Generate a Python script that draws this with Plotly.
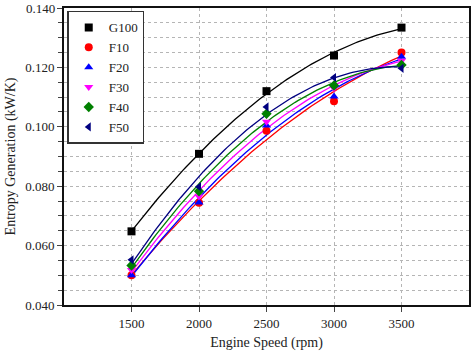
import numpy as np
import plotly.graph_objects as go

speed = [1500, 2000, 2500, 3000, 3500]
series_names = ["G100", "F10", "F20", "F30", "F40", "F50"]
G100 = [0.0648, 0.0909, 0.1120, 0.1240, 0.1334]
F10 = [0.0500, 0.0744, 0.0987, 0.1086, 0.1250]
F20 = [0.0500, 0.0745, 0.1004, 0.1102, 0.1236]
F30 = [0.0518, 0.0765, 0.1017, 0.1130, 0.1222]
F40 = [0.0533, 0.0783, 0.1044, 0.1139, 0.1208]
F50 = [0.0552, 0.0798, 0.1067, 0.1166, 0.1197]
y_ticks = [0.040, 0.060, 0.080, 0.100, 0.120, 0.140]
y_labels = ["0.040", "0.060", "0.080", "0.100", "0.120", ""]

data = [G100, F10, F20, F30, F40, F50]
colors = ["#000000", "#ff0000", "#0000ff", "#ff00ff", "#008000", "#000080"]
symbols = ["square", "circle", "triangle-up", "triangle-down", "diamond", "triangle-left"]

fig = go.Figure()
xs = np.linspace(1500, 3500, 100)
for name, vals, c, s in zip(series_names, data, colors, symbols):
    coef = np.polyfit(speed, vals, 2)
    fig.add_trace(go.Scatter(x=xs, y=np.polyval(coef, xs), mode="lines",
                             line=dict(color=c, width=1.3), showlegend=False, hoverinfo="skip"))
for name, vals, c, s in zip(series_names, data, colors, symbols):
    fig.add_trace(go.Scatter(x=speed, y=vals, mode="markers", name=name,
                             marker=dict(symbol=s, color=c, size=8, line=dict(width=0))))

fig.add_annotation(xref="paper", yref="y", x=0, y=y_ticks[-1], xanchor="right",
                   xshift=-7, yanchor="middle", showarrow=False, text="0.140",
                   font=dict(family="Liberation Serif", size=13, color="#222"))

grid = dict(gridcolor="#b5b5b5", griddash="dot", gridwidth=1)
fig.update_layout(
    width=474, height=352,
    margin=dict(l=64, r=3, t=8, b=47),
    paper_bgcolor="white", plot_bgcolor="white",
    font=dict(family="Liberation Serif", size=13, color="#222"),
    legend=dict(x=0.008, y=0.99, xanchor="left", yanchor="top",
                bgcolor="white", bordercolor="#333", borderwidth=1.5,
                font=dict(size=13), itemwidth=30, tracegroupgap=0),
    xaxis=dict(range=[1000, 4000], tickvals=speed, ticks="outside", ticklen=5,
               showline=True, linecolor="#111", linewidth=2, mirror=True,
               showgrid=True, **grid,
               title=dict(text="Engine Speed (rpm)", font=dict(size=14), standoff=8)),
    yaxis=dict(range=[0.0400, 0.1400], tickvals=y_ticks, ticktext=y_labels,
               ticks="outside", ticklen=5,
               showline=True, linecolor="#111", linewidth=2, mirror=True,
               showgrid=True, **grid,
               minor=dict(dtick=0.005, ticks="outside", ticklen=4, showgrid=True,
                          gridcolor="#b5b5b5", griddash="dot", gridwidth=1),
               title=dict(text="Entropy Generation (kW/K)", font=dict(size=14), standoff=6)),
)
fig.write_html("out.html")
